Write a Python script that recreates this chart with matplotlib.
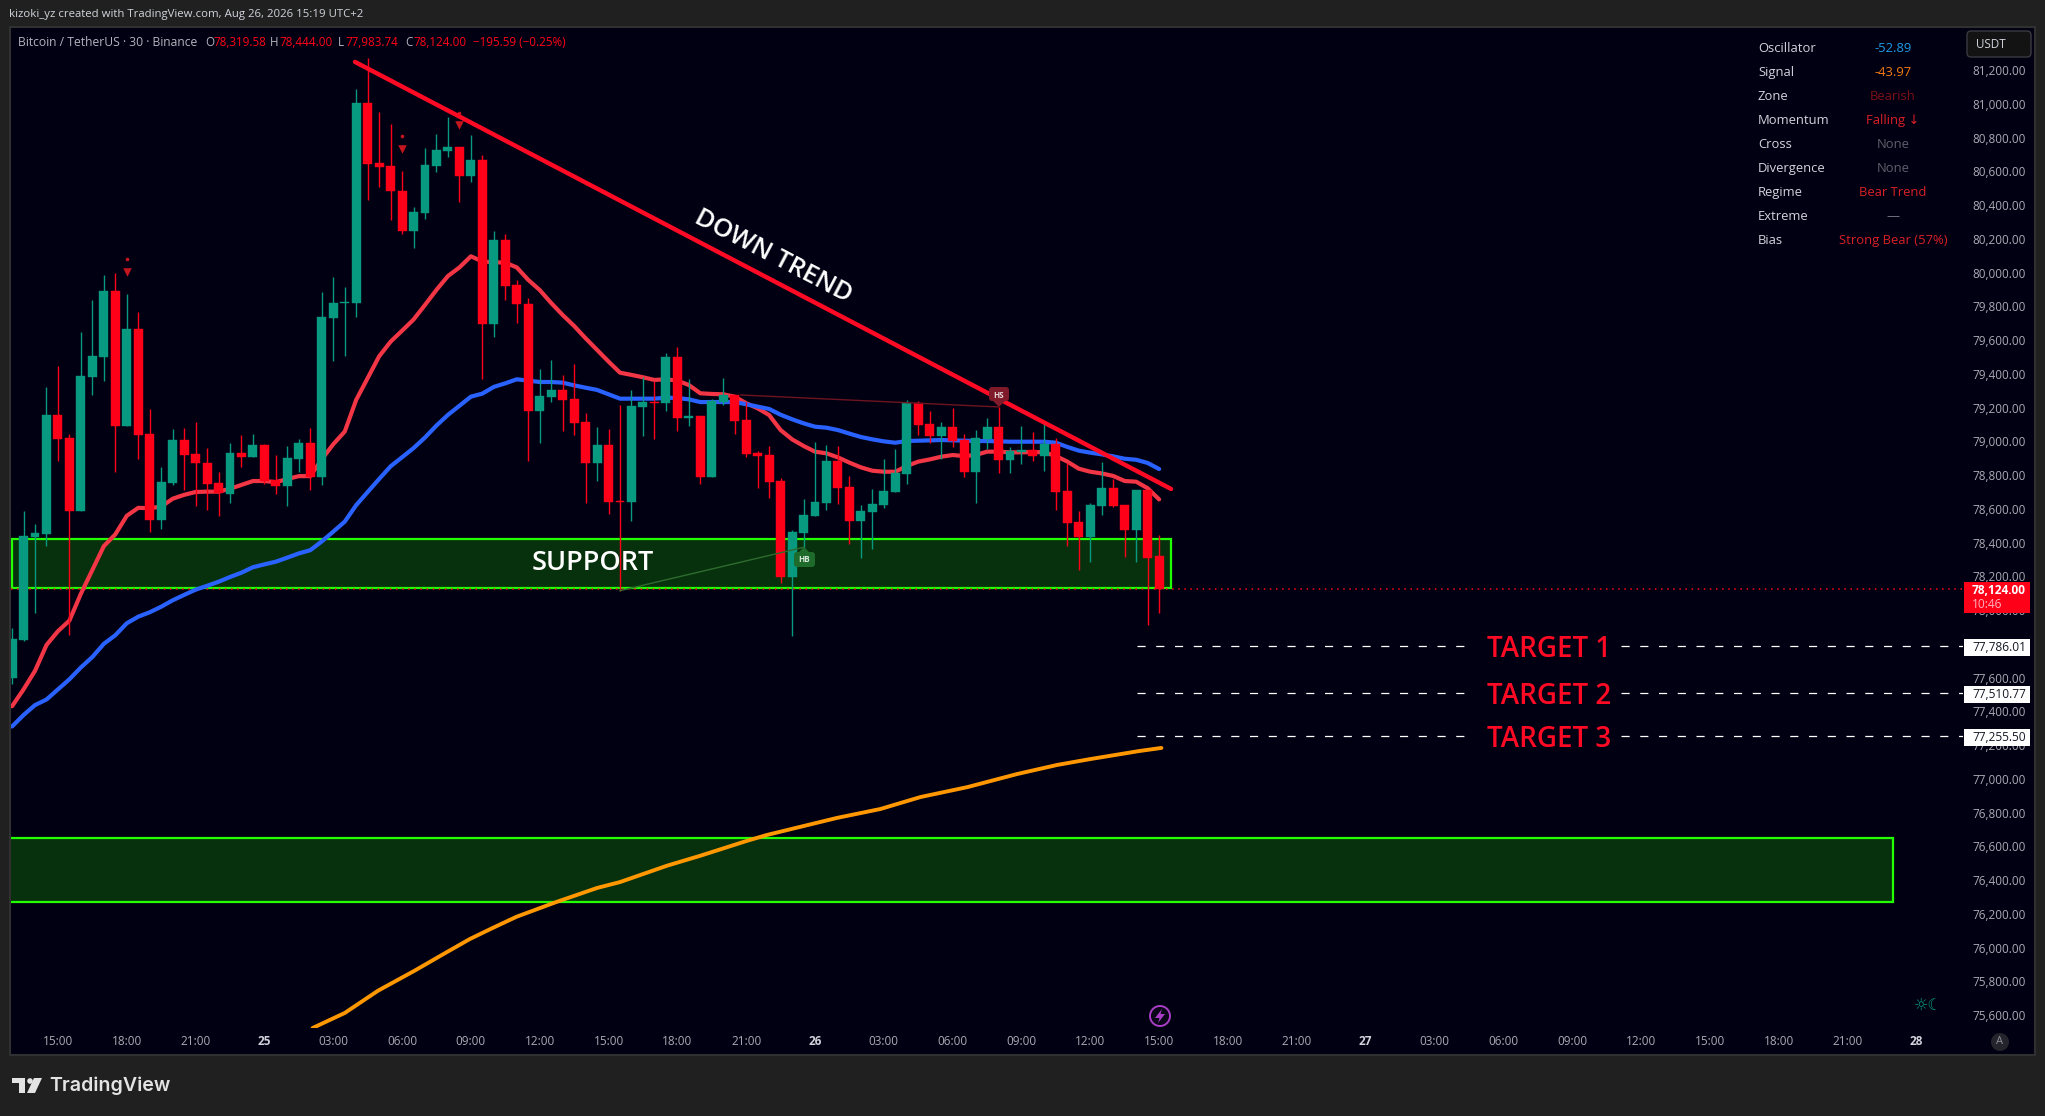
#!/usr/bin/env python3
# BTC/USDT 30m chart, redrawn from a TradingView screenshot
import numpy as np
import matplotlib
matplotlib.use("Agg")
import matplotlib.pyplot as plt
from matplotlib.patches import Rectangle, FancyBboxPatch, Circle, Polygon

plt.rcParams['font.family'] = ['Open Sans', 'DejaVu Sans']

# candles, first one is partly cut by the left edge of the pane
FIRST_BAR = -4
OPEN = [77597, 77823, 78433, 78451, 79157, 79019, 78590, 79382, 79501, 79891, 79094, 79666, 79044, 78536, 78754, 79007, 78925,
        78871, 78754, 78690, 78932, 78906, 78979, 78770, 78733, 78894, 78990, 78789, 79731, 79820, 79823, 81006, 80650, 80631,
        80484, 80247, 80355, 80634, 80723, 80744, 80570, 80669, 79698, 80193, 79926, 79814, 79182, 79263, 79305, 79251, 79115,
        78872, 78979, 78647, 78641, 79204, 79233, 79228, 79500, 79139, 79150, 78789, 79233, 79275, 79127, 78931, 78919, 78765,
        78196, 78457, 78558, 78635, 78884, 78730, 78528, 78581, 78623, 78700, 78806, 79227, 79103, 79032, 79085, 79008, 78818,
        79014, 79085, 78889, 78937, 78949, 78913, 78984, 78706, 78522, 78433, 78617, 78723, 78623, 78475, 78712, 78319.58]
HIGH = [77893, 78590, 78508, 79321, 79445, 79042, 79649, 79837, 79984, 79996, 79874, 79766, 79192, 78847, 79073, 79080, 79115,
        78960, 78817, 78988, 79037, 79044, 78984, 78918, 78972, 79012, 79077, 79884, 79977, 79914, 81086, 81271, 80952, 80882,
        80605, 80390, 80739, 80821, 80922, 80744, 80816, 80695, 80245, 80228, 79956, 79850, 79429, 79482, 79394, 79459, 79166,
        79083, 79073, 79216, 79305, 79382, 79358, 79524, 79560, 79370, 79150, 79251, 79376, 79275, 79231, 78943, 78973, 78783,
        78475, 78658, 78996, 78979, 78973, 78795, 78623, 78718, 78895, 78955, 79245, 79239, 79180, 79115, 79198, 79044, 79067,
        79138, 79206, 78967, 79091, 79055, 79115, 79020, 78872, 78587, 78635, 78878, 78777, 78623, 78712, 78712, 78444.00]
LOW = [77560, 77816, 77980, 78379, 78883, 77851, 78590, 79276, 79358, 78819, 79094, 78894, 78465, 78479, 78742, 78714, 78618,
       78594, 78559, 78637, 78847, 78906, 78747, 78690, 78618, 78819, 78714, 78742, 79478, 79508, 79738, 80430, 80507, 80312,
       80230, 80148, 80320, 80598, 80683, 80420, 80540, 79368, 79621, 79839, 79703, 78886, 78992, 79233, 79062, 79038, 78635,
       78765, 78570, 78115, 78528, 79032, 79014, 79180, 79062, 79091, 78747, 78789, 79216, 79044, 78907, 78724, 78664, 78160,
       77846, 78336, 78558, 78593, 78629, 78392, 78309, 78362, 78605, 78700, 78747, 79038, 78990, 78895, 78967, 78789, 78635,
       78955, 78812, 78812, 78866, 78884, 78824, 78593, 78380, 78237, 78285, 78563, 78611, 78314, 78285, 77911, 77983.74]
CLOSE = [77828, 78440, 78456, 79157, 79016, 78590, 79387, 79506, 79891, 79094, 79666, 79040, 78536, 78758, 79007, 78920, 78869,
         78747, 78693, 78932, 78906, 78979, 78765, 78733, 78901, 78990, 78789, 79736, 79820, 79825, 81006, 80645, 80627, 80481,
         80247, 80359, 80638, 80727, 80744, 80570, 80669, 79698, 80193, 79923, 79816, 79182, 79269, 79305, 79245, 79109, 78872,
         78979, 78641, 78641, 79210, 79233, 79229, 79500, 79139, 79150, 78789, 79239, 79275, 79121, 78925, 78913, 78759, 78196,
         78463, 78564, 78641, 78884, 78724, 78528, 78587, 78629, 78706, 78812, 79227, 79097, 79032, 79085, 79002, 78818, 79020,
         79085, 78889, 78943, 78947, 78913, 78984, 78700, 78516, 78433, 78623, 78723, 78617, 78475, 78712, 78309, 78124.00]

# moving averages, one value per candle
EMA_FAST = [77430, 77530, 77640, 77793, 77875, 77938, 78097, 78238, 78379, 78449, 78559, 78606, 78604, 78613, 78660, 78683, 78700,
            78702, 78702, 78719, 78742, 78765, 78765, 78758, 78777, 78794, 78794, 78894, 78983, 79058, 79246, 79375, 79504, 79591,
            79656, 79722, 79809, 79898, 79980, 80031, 80097, 80066, 80062, 80059, 80031, 79957, 79897, 79820, 79749, 79684, 79611,
            79542, 79473, 79407, 79394, 79380, 79364, 79368, 79360, 79334, 79285, 79281, 79279, 79265, 79226, 79196, 79156, 79067,
            79012, 78973, 78939, 78929, 78905, 78874, 78846, 78826, 78820, 78820, 78854, 78880, 78893, 78909, 78919, 78913, 78919,
            78939, 78939, 78935, 78935, 78937, 78935, 78913, 78880, 78838, 78820, 78810, 78795, 78765, 78761, 78722, 78656]
EMA_MID = [77310, 77378, 77437, 77470, 77530, 77590, 77660, 77722, 77800, 77851, 77922, 77961, 77987, 78020, 78058, 78090, 78121,
           78144, 78168, 78196, 78222, 78254, 78271, 78287, 78311, 78336, 78355, 78407, 78465, 78524, 78622, 78700, 78777, 78852,
           78906, 78960, 79023, 79094, 79157, 79211, 79265, 79283, 79323, 79344, 79368, 79360, 79352, 79352, 79348, 79332, 79318,
           79305, 79279, 79253, 79253, 79253, 79253, 79259, 79257, 79249, 79233, 79233, 79233, 79233, 79220, 79206, 79192, 79158,
           79131, 79107, 79087, 79081, 79067, 79046, 79026, 79012, 79000, 78992, 79002, 79004, 79006, 79008, 79006, 79004, 79002,
           79002, 79000, 78998, 78998, 78998, 78998, 78992, 78967, 78945, 78933, 78923, 78911, 78897, 78891, 78872, 78836]
EMA_SLOW_BARS = [22.2, 25.0, 27.9, 31.1, 33.6, 35.9, 37.9, 40.0, 43.5, 47.0, 49.0, 53.1, 56.0, 60.1, 61.8, 67.9, 71.7, 75.2,
                 79.3, 83.6, 87.1, 90.0, 94.3, 96.2]
EMA_SLOW = [75523, 75612, 75744, 75863, 75961, 76050, 76116, 76183, 76271, 76353, 76388, 76485, 76544, 76633, 76667, 76768,
            76821, 76892, 76951, 77028, 77082, 77117, 77165, 77183]

SUPPORT_HIGH, SUPPORT_LOW = 78421, 78133
LOWER_ZONE_HIGH, LOWER_ZONE_LOW = 76649, 76270
TREND_BARS = [25.9, 97.04]
TREND_PRICES = [81249, 78718]
LAST_PRICE = 78124.00
TARGETS = [77786.01, 77510.77, 77255.50]
TARGET_NAMES = ['TARGET 1', 'TARGET 2', 'TARGET 3']
SIGNAL_BARS = [6, 30, 35]
SIGNAL_TRI = [80001, 80730, 80873]
SIGNAL_DOT = [80078, 80809, 80948]

PRICE_TICKS = list(range(75600, 81400, 200))
TIME_BARS = list(range(0, 168, 6))
TIME_LABELS = ['15:00', '18:00', '21:00', '25', '03:00', '06:00', '09:00', '12:00', '15:00', '18:00', '21:00', '26',
               '03:00', '06:00', '09:00', '12:00', '15:00', '18:00', '21:00', '27',
               '03:00', '06:00', '09:00', '12:00', '15:00', '18:00', '21:00', '28']

TABLE_NAMES = ['Oscillator', 'Signal', 'Zone', 'Momentum', 'Cross', 'Divergence', 'Regime', 'Extreme', 'Bias']
TABLE_VALUES = ['-52.89', '-43.97', 'Bearish', 'Falling ↓', 'None', 'None', 'Bear Trend', '—', 'Strong Bear (57%)']
TABLE_COLORS = ['#1e9be8', '#f57c14', '#7a1016', '#dc1f28', '#5d606b', '#5d606b', '#d92027', '#787b86', '#d92027']

BG = '#202020'
PANE = '#010012'
UP = '#089981'
DOWN = '#ff0019'
W, H = 2045, 1116

fig = plt.figure(figsize=(W / 100, H / 100), dpi=100, facecolor=BG)

# pane behind everything
back = fig.add_axes([0, 0, 1, 1], zorder=0)
back.set_xlim(0, W)
back.set_ylim(H, 0)
back.axis('off')
back.add_patch(Rectangle((10, 27), 2025, 1028, fc=PANE, ec='#303030', lw=1.5))

# main axes, x is in bars and y in price
L, R, T, B = 10.7, 1963, 27, 1028
ax = fig.add_axes([L / W, 1 - B / H, (R - L) / W, (B - T) / H], zorder=1)
ax.set_facecolor('none')
ax.set_xlim(-4.12, 166.08)
ax.set_ylim(75523, 81456)
for s in ax.spines.values():
    s.set_visible(False)

bars = np.arange(len(OPEN)) + FIRST_BAR
opens, closes = np.array(OPEN), np.array(CLOSE)
colors = [UP if c >= o else DOWN for o, c in zip(opens, closes)]

# zones
ZONE_EDGE = '#22ff00'
ZONE_FILL = '#07310d'
ax.add_patch(Rectangle((-4.05, SUPPORT_LOW), 101.09, SUPPORT_HIGH - SUPPORT_LOW, fc=ZONE_FILL, ec=ZONE_EDGE, lw=1.6, zorder=1))
ax.add_patch(Rectangle((-6, LOWER_ZONE_LOW), 166, LOWER_ZONE_HIGH - LOWER_ZONE_LOW, fc=ZONE_FILL, ec=ZONE_EDGE, lw=1.6, zorder=1))

ax.axhline(LAST_PRICE, color=DOWN, lw=1.1, ls=(0, (1, 3)), zorder=1.5)

# moving averages sit under the candles
ax.plot(bars, EMA_FAST, color='#f23645', lw=3.0, zorder=2, solid_capstyle='round')
ax.plot(bars, EMA_MID, color='#2962ff', lw=3.0, zorder=2, solid_capstyle='round')
ax.plot(EMA_SLOW_BARS, EMA_SLOW, color='#ff9800', lw=2.8, zorder=2, solid_capstyle='round')

ax.vlines(bars, LOW, HIGH, colors=colors, lw=1.0, zorder=3)
ax.bar(bars, closes - opens, bottom=opens, width=0.78, color=colors, edgecolor=colors, lw=0.3, zorder=3.1)

# faint pattern lines
ax.plot([59.5, 82], [79275, 79204], color='#6e1420', lw=1, zorder=3.2)
ax.plot([49, 65], [78115, 78372], color='#2e6b2e', lw=1, zorder=3.2)

# signal marks
ax.scatter(SIGNAL_BARS, SIGNAL_TRI, marker='v', s=38, color='#c4161f', lw=0, zorder=4)
ax.scatter(SIGNAL_BARS, SIGNAL_DOT, marker='o', s=7, color='#c4161f', lw=0, zorder=4)

ax.plot(TREND_BARS, TREND_PRICES, color='#ff0a24', lw=3.2, zorder=5, solid_capstyle='round')

# target lines stop either side of their label
for price, name in zip(TARGETS, TARGET_NAMES):
    ax.plot([94.07, 123.3], [price, price], color='white', lw=0.9, ls=(0, (6.5, 8.5)), zorder=4)
    ax.plot([136.3, 166.08], [price, price], color='white', lw=0.9, ls=(0, (6.5, 8.5)), zorder=4)
    ax.text(130.0, price, name, color='#ff0a24', fontsize=20, fontweight='semibold', ha='center', va='center_baseline', zorder=6)

ax.text(62.3, 80093, 'DOWN TREND', color='white', fontsize=18.5, fontweight='semibold', rotation=-27.6, rotation_mode='anchor',
        ha='center', va='center', zorder=6)
ax.text(46.6, 78279, 'SUPPORT', color='white', fontsize=19.5, fontweight='semibold', ha='center', va='center', zorder=6)

# axes ticks
ax.yaxis.tick_right()
ax.set_yticks(PRICE_TICKS)
ax.set_yticklabels([f'{p:,.2f}' for p in PRICE_TICKS])
ax.set_xticks(TIME_BARS)
ax.set_xticklabels(TIME_LABELS)
ax.tick_params(axis='y', length=0, pad=6.5, labelsize=8.5, labelcolor='#a8abb3')
ax.tick_params(axis='x', length=0, pad=5, labelsize=8.5, labelcolor='#a8abb3')
for lab, name in zip(ax.get_xticklabels(), TIME_LABELS):
    if len(name) == 2:
        lab.set_fontweight('bold')
        lab.set_color('#d1d4dc')

# everything around the plot, in screen pixels
top = fig.add_axes([0, 0, 1, 1], zorder=3)
top.set_xlim(0, W)
top.set_ylim(H, 0)
top.axis('off')
top.patch.set_alpha(0)

top.text(9, 15, 'kizoki_yz created with TradingView.com, Aug 26, 2026 15:19 UTC+2', color='#d1d4dc', fontsize=8.2, va='center')
top.text(18, 42, 'Bitcoin / TetherUS · 30 · Binance', color='#b2b5be', fontsize=8.7, va='center')
for x, t, c in [(205, 'O', '#b2b5be'), (213, '78,319.58', DOWN), (270, 'H', '#b2b5be'), (279, '78,444.00', DOWN),
                (338, 'L', '#b2b5be'), (345, '77,983.74', DOWN), (405, 'C', '#b2b5be'), (413, '78,124.00', DOWN),
                (473, '−195.59 (−0.25%)', DOWN)]:
    top.text(x, 42, t, color=c, fontsize=8.4, va='center')

# indicator table
for i, (name, value, col) in enumerate(zip(TABLE_NAMES, TABLE_VALUES, TABLE_COLORS)):
    y = 48.3 + i * 24
    top.text(1758, y, name, color='#d1d4dc', fontsize=9.4, va='center')
    top.text(1893, y, value, color=col, fontsize=9.4, va='center', ha='center')

top.add_patch(FancyBboxPatch((1970, 34), 58, 20, boxstyle='round,pad=3,rounding_size=4', fc='#131314', ec='#3a3a40', lw=1))
top.text(1976, 44, 'USDT', color='#d1d4dc', fontsize=8.4, va='center')

# price badges
top.add_patch(Rectangle((1964, 582), 66, 31, fc=DOWN, ec='none'))
top.text(1972, 590, '78,124.00', color='white', fontsize=8.6, fontweight='bold', va='center')
top.text(1972, 604, '10:46', color='#ffb3bd', fontsize=8.6, va='center')
for price, y in zip(TARGETS, [647.5, 694.5, 737.5]):
    top.add_patch(Rectangle((1964, y - 8.5), 66, 17, fc='white', ec='none'))
    top.text(1972, y, f'{price:,.2f}', color='#131722', fontsize=8.6, va='center')

# pattern tags
top.add_patch(FancyBboxPatch((992, 390), 14, 8, boxstyle='round,pad=3,rounding_size=3', fc='#7f1a2a', ec='none'))
top.add_patch(Polygon([(993, 401), (1005, 401), (999, 407)], fc='#7f1a2a', ec='none'))
top.text(999, 395.5, 'HS', color='#e6d5d8', fontsize=5.8, fontweight='bold', ha='center', va='center')
top.add_patch(FancyBboxPatch((797, 555), 15, 9, boxstyle='round,pad=3,rounding_size=3', fc='#1e6b2c', ec='none'))
top.add_patch(Polygon([(798, 553), (810, 553), (804, 547)], fc='#1e6b2c', ec='none'))
top.text(804, 559, 'HB', color='#d5e6d8', fontsize=5.8, fontweight='bold', ha='center', va='center')

# small icons
top.add_patch(Circle((1160, 1016), 10, fc='#0a0518', ec='#a63fc4', lw=1.4))
top.add_patch(Polygon([(1162, 1009), (1155, 1018), (1159.5, 1018), (1158, 1023), (1165, 1014), (1160.5, 1014)], fc='#a63fc4', ec='none'))
top.text(1928, 1005, '☼☾', color=UP, fontsize=11.5, ha='center', va='center', family=['DejaVu Sans'])
top.add_patch(Circle((2000, 1042), 9, fc='#24242c', ec='none'))
top.text(2000, 1042, 'A', color='#8a8d96', fontsize=8, ha='center', va='center')

# logo
LOGO = '#e3e3e3'
top.add_patch(Polygon([(12.5, 1078), (25, 1078), (25, 1093), (19, 1093), (19, 1083), (12.5, 1083)], fc=LOGO, ec='none'))
top.add_patch(Circle((30, 1081), 2.8, fc=LOGO, ec='none'))
top.add_patch(Polygon([(34, 1078), (42, 1078), (35, 1093), (27, 1093)], fc=LOGO, ec='none'))
top.text(49, 1086, 'TradingView', color=LOGO, fontsize=14.1, fontweight='semibold', va='center', family=['Inter', 'DejaVu Sans'])

fig.savefig('out.png', dpi=100, facecolor=BG)
